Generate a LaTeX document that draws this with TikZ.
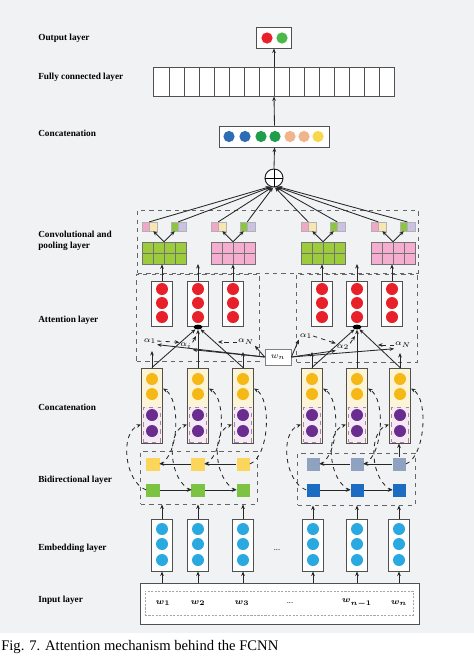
\documentclass[tikz,border=0pt]{standalone}
\usepackage{fontspec}
\setmainfont{Liberation Serif}
\usetikzlibrary{arrows.meta,shapes.geometric}
\definecolor{bggrey}{HTML}{F1F2F4}
\definecolor{boxline}{HTML}{505050}
\definecolor{redc}{HTML}{E8202A}
\definecolor{greenc}{HTML}{4CB848}
\definecolor{bluec}{HTML}{2E6DB4}
\definecolor{dgreenc}{HTML}{1E9E4A}
\definecolor{salmonc}{HTML}{F2B48A}
\definecolor{yellowc}{HTML}{F8D84A}
\definecolor{gridgreen}{HTML}{9CCB3B}
\definecolor{gridpink}{HTML}{F5AECF}
\definecolor{sqpink}{HTML}{F2A7C8}
\definecolor{sqbeige}{HTML}{F8E6B0}
\definecolor{sqgreen}{HTML}{8CC63F}
\definecolor{sqlav}{HTML}{C9C2E2}
\definecolor{ambc}{HTML}{F6B817}
\definecolor{purpc}{HTML}{6A2C8E}
\definecolor{creamc}{HTML}{FCF4D6}
\definecolor{lavc}{HTML}{F4EAF4}
\definecolor{bfyel}{HTML}{FBD65A}
\definecolor{bfgreen}{HTML}{7CC243}
\definecolor{bgrey}{HTML}{8FA2C0}
\definecolor{bblue}{HTML}{1C6DC1}
\definecolor{embc}{HTML}{2AA9E0}

\begin{document}
\begin{tikzpicture}[x=0.025cm,y=-0.025cm,
		lbl/.style={anchor=west,inner sep=0pt,font=\fontsize{6.6}{7.8}\selectfont\bfseries,align=left},
		layerbox/.style={draw=boxline,line width=0.7pt,fill=white,inner sep=0pt},
		ball/.style={circle,inner sep=0pt,minimum size=0.3cm},
		dashbox/.style={draw=gray!80!black,dashed,line width=0.7pt,inner sep=0pt},
		arr/.style={-{Stealth[length=3.2pt,width=2.6pt]},line width=0.6pt,draw=black!85},
		dcurve/.style={arr,dashed},
		sq/.style={inner sep=0pt,minimum size=0.325cm},
		poolsq/.style={inner sep=0pt,minimum width=0.19cm,minimum height=0.22cm,draw=gray!60,line width=0.3pt},
		alf/.style={inner sep=0.5pt,font=\fontsize{6.5}{7}\selectfont}]
			\fill[bggrey] (0,0) rectangle (474,633);
			\useasboundingbox (0,0) rectangle (474,659);
			
			\begin{scope}[every node/.style={lbl}]
				\node (lout) at (38,38) {Output layer};
				\node (lfc) at (38,77) {Fully connected layer};
				\node (lcat) at (38,133) {Concatenation};
				\node (lconv) at (38,240.5) {Convolutional and\\pooling layer};
				\node (latt) at (38,320) {Attention layer};
				\node (lcat2) at (38,407) {Concatenation};
				\node (lbi) at (38,480) {Bidirectional layer};
				\node (lemb) at (38,548) {Embedding layer};
				\node (linp) at (38,600) {Input layer};
			\end{scope}
			
			% output, fully connected, concatenation
			\node[layerbox,minimum width=0.875cm,minimum height=0.525cm] (outbox) at (274,37.5) {};
			\node[ball,fill=redc,minimum size=0.28cm] (o1) at (267,38) {};
			\node[ball,fill=greenc,minimum size=0.28cm] (o2) at (282,38) {};
			\node[layerbox,minimum width=6cm,minimum height=0.725cm] (fc) at (274,81.5) {};
			\foreach \i in {1,...,15}
				\draw[boxline,line width=0.6pt] (154+15*\i,67) -- (154+15*\i,96);
			\node[layerbox,minimum width=2.725cm,minimum height=0.525cm] (cat) at (274.5,136.5) {};
			\foreach \x/\c [count=\i] in {229/bluec,245/bluec,261/dgreenc,275/dgreenc,290/salmonc,304/salmonc,318/yellowc}
				\node[ball,fill=\c,minimum size=0.28cm] (k\i) at (\x,136.5) {};
			\node[circle,draw=black!85,line width=0.7pt,minimum size=0.45cm,inner sep=0pt,fill=white] (sum) at (274,178) {};
			\draw[line width=0.7pt] (sum.north) -- (sum.south) (sum.west) -- (sum.east);
			\draw[arr] (fc.north) -- (outbox.south);
			\draw[arr] (cat.north) -- (fc.south);
			\draw[arr] (sum.north) -- (cat.south);
			
			% convolution and pooling
			\node[dashbox,minimum width=7cm,minimum height=1.575cm] (cb) at (278,241.5) {};
			\foreach \g/\gx/\gc/\aa/\ab in {1/142/gridgreen/246/252,2/211/gridpink/258/264,3/301/gridgreen/276/282,4/371/gridpink/288/294} {
				\node[draw=black!55,fill=\gc,line width=0.5pt,minimum width=1.1cm,minimum height=0.55cm,inner sep=0pt] (g\g) at (\gx+22,253) {};
				\draw[black!55,line width=0.4pt] (\gx+11,242) -- (\gx+11,264) (\gx+22,242) -- (\gx+22,264)
					(\gx+33,242) -- (\gx+33,264) (\gx,253) -- (\gx+44,253);
				\node[poolsq,fill=sqpink] (pk\g) at (\gx+3.75,226.5) {};
				\node[poolsq,fill=sqbeige] (bg\g) at (\gx+11.25,226.5) {};
				\node[poolsq,fill=sqgreen] (gn\g) at (\gx+32.75,226.5) {};
				\node[poolsq,fill=sqlav] (lv\g) at (\gx+40.25,226.5) {};
				\draw[arr] (g\g.north) -- (bg\g.south);
				\draw[arr] (g\g.north) -- (gn\g.south);
				\draw[arr] (bg\g.north west) -- (sum.\aa);
				\draw[arr] (lv\g.north west) -- (sum.\ab);
			}
			
			% attention
			\node[dashbox,minimum width=3.05cm,minimum height=2.175cm] (al) at (198,317.5) {};
			\node[dashbox,minimum width=3cm,minimum height=2.2cm] (ar) at (357,318) {};
			\foreach \x [count=\i] in {162,198,233,322,357,392} {
				\node[layerbox,minimum width=0.525cm,minimum height=1.125cm] (a\i) at (\x,303.5) {};
				\foreach \y [count=\j] in {289,303,317}
					\node[ball,fill=redc] (r\i\j) at (\x,\y) {};
			}
			\coordinate (t2) at (198,264);
			\coordinate (t5) at (357,264);
			\draw[arr] (a1.north) -- (a1.north |- g1.south);
			\draw[arr] (a2.north) -- (t2);
			\draw[arr] (a3.north) -- (a3.north |- g2.south);
			\draw[arr] (a4.north) -- (a4.north |- g3.south);
			\draw[arr] (a5.north) -- (t5);
			\draw[arr] (a6.north) -- (a6.north |- g4.south);
			\node[ellipse,fill=black,inner sep=0pt,minimum width=0.22cm,minimum height=0.12cm] (d1) at (198,327) {};
			\node[ellipse,fill=black,inner sep=0pt,minimum width=0.22cm,minimum height=0.12cm] (d2) at (357,327) {};
			
			% concatenation of hidden states
			\foreach \x [count=\i] in {152,198,243,312,357,400} {
				\node[layerbox,fill=creamc,minimum width=0.525cm,minimum height=1.875cm] (c\i) at (\x,405.5) {};
				\node[draw=purpc!60,dashed,fill=lavc,line width=0.4pt,minimum width=0.425cm,minimum height=0.875cm,inner sep=0pt] (pbox\i) at (\x,424.5) {};
				\node[ball,fill=ambc] (ya\i) at (\x,379) {};
				\node[ball,fill=ambc] (yb\i) at (\x,394) {};
				\node[ball,fill=purpc] (pa\i) at (\x,415) {};
				\node[ball,fill=purpc] (pb\i) at (\x,431) {};
			}
			
			\node[draw=gray,fill=white,line width=0.5pt,minimum width=0.65cm,minimum height=0.4cm,inner sep=0pt,font=\fontsize{6.5}{7}\selectfont] (wn) at (278,357) {$w_n$};
			\node[alf] (al1) at (150,341) {$\alpha_1$};
			\node[alf] (al2) at (186,346) {$\alpha_i$};
			\node[alf] (al3) at (246,342) {$\alpha_N$};
			\node[alf] (al4) at (306,336) {$\alpha_1$};
			\node[alf] (al5) at (343,347) {$\alpha_2$};
			\node[alf] (al6) at (403,345) {$\alpha_N$};
			\coordinate (v1) at (152,351);
			\coordinate (v3) at (243,352);
			\coordinate (v4) at (312,352);
			\coordinate (v6) at (400,353);
			\coordinate (q1) at (196,336);
			\coordinate (q2) at (218,342);
			\coordinate (q3) at (355,336);
			\coordinate (q4) at (378,345);
			\foreach \i in {1,2,3}
				\draw[arr] (c\i.north) -- (d1);
			\foreach \i in {4,5,6}
				\draw[arr] (c\i.north) -- (d2);
			\draw[arr] (c1.north) -- (v1);
			\draw[arr] (c3.north) -- (v3);
			\draw[arr] (c4.north) -- (v4);
			\draw[arr] (c6.north) -- (v6);
			\draw[arr] (wn.west) -- (al1.south east);
			\draw[arr] (wn.west) -- (al2.south east);
			\draw[arr] (wn.west) -- (al3.south east);
			\draw[arr] (wn.east) -- (al4.south west);
			\draw[arr] (wn.east) -- (al5.south west);
			\draw[arr] (wn.east) -- (al6.south west);
			\draw[dcurve] (al1.east) -- (al2.north west);
			\draw[dcurve] (al2.north east) -- (q1);
			\draw[dcurve] (al3.west) -- (q2);
			\draw[dcurve] (al4.east) -- (al5.north west);
			\draw[dcurve] (al5.north east) -- (q3);
			\draw[dcurve] (al6.west) -- (q4);
			
			% bidirectional layer
			\node[dashbox,minimum width=2.9cm,minimum height=1.325cm] (bl) at (199,477.5) {};
			\node[dashbox,minimum width=2.925cm,minimum height=1.3cm] (br) at (356.5,479) {};
			\foreach \x/\cb/\cf [count=\i] in {153/bfyel/bfgreen,198/bfyel/bfgreen,243/bfyel/bfgreen,313/bgrey/bblue,357/bgrey/bblue,399/bgrey/bblue} {
				\node[sq,fill=\cb] (h\i) at (\x,464) {};
				\node[sq,fill=\cf] (f\i) at (\x,490) {};
			}
			\begin{scope}[every path/.style={arr}]
				\draw (h3) -- (h2);
				\draw (h2) -- (h1);
				\draw (f1) -- (f2);
				\draw (f2) -- (f3);
				\draw (h6) -- (h5);
				\draw (h5) -- (h4);
				\draw (f4) -- (f5);
				\draw (f5) -- (f6);
				\draw (h6.north) -- (h6.north |- c6.south);
			\end{scope}
			\foreach \i in {1,...,6} {
				\draw[dcurve] (f\i.west) to[out=160,in=200,looseness=0.9] (c\i.240);
				\draw[dcurve] (h\i.east) to[out=20,in=-30,looseness=0.7] (c\i.57);
			}
			
			% embedding and input
			\foreach \x [count=\i] in {162,198,243,313,357,399} {
				\node[layerbox,minimum width=0.525cm,minimum height=1.3cm] (e\i) at (\x,545) {};
				\foreach \y [count=\j] in {529,544,560}
					\node[ball,fill=embc] (eb\i\j) at (\x,\y) {};
			}
			\node[font=\fontsize{6}{7}\selectfont] (edots) at (277,550) {...};
			\node[layerbox,minimum width=6.95cm,minimum height=1.025cm] (inp) at (280,603.5) {};
			\node[draw=gray!70,dash pattern=on 1.5pt off 1pt,line width=0.5pt,minimum width=6.7cm,minimum height=0.6cm,inner sep=0pt] (inpi) at (279,603) {};
			\foreach \x/\t [count=\i] in {163/w_1,198/w_2,242/w_3,357/w_{n-1},399/w_n}
				\node[font=\fontsize{6}{7}\selectfont\boldmath] (w\i) at (\x,603) {$\t$};
			\node[font=\fontsize{6}{7}\selectfont] (wdots) at (290,603) {...};
			\foreach \i in {1,2,3} {
				\draw[arr] (e\i.north) -- (e\i.north |- bl.south);
				\draw[arr] (e\i.south |- inp.north) -- (e\i.south);
			}
			\foreach \i in {4,5,6} {
				\draw[arr] (e\i.north) -- (e\i.north |- br.south);
				\draw[arr] (e\i.south |- inp.north) -- (e\i.south);
			}
			
			\node[anchor=west,inner sep=0pt,font=\fontsize{10.4}{12}\selectfont] (cap) at (1,647) {Fig. 7. Attention mechanism behind the FCNN};
		\end{tikzpicture}
\end{document}
